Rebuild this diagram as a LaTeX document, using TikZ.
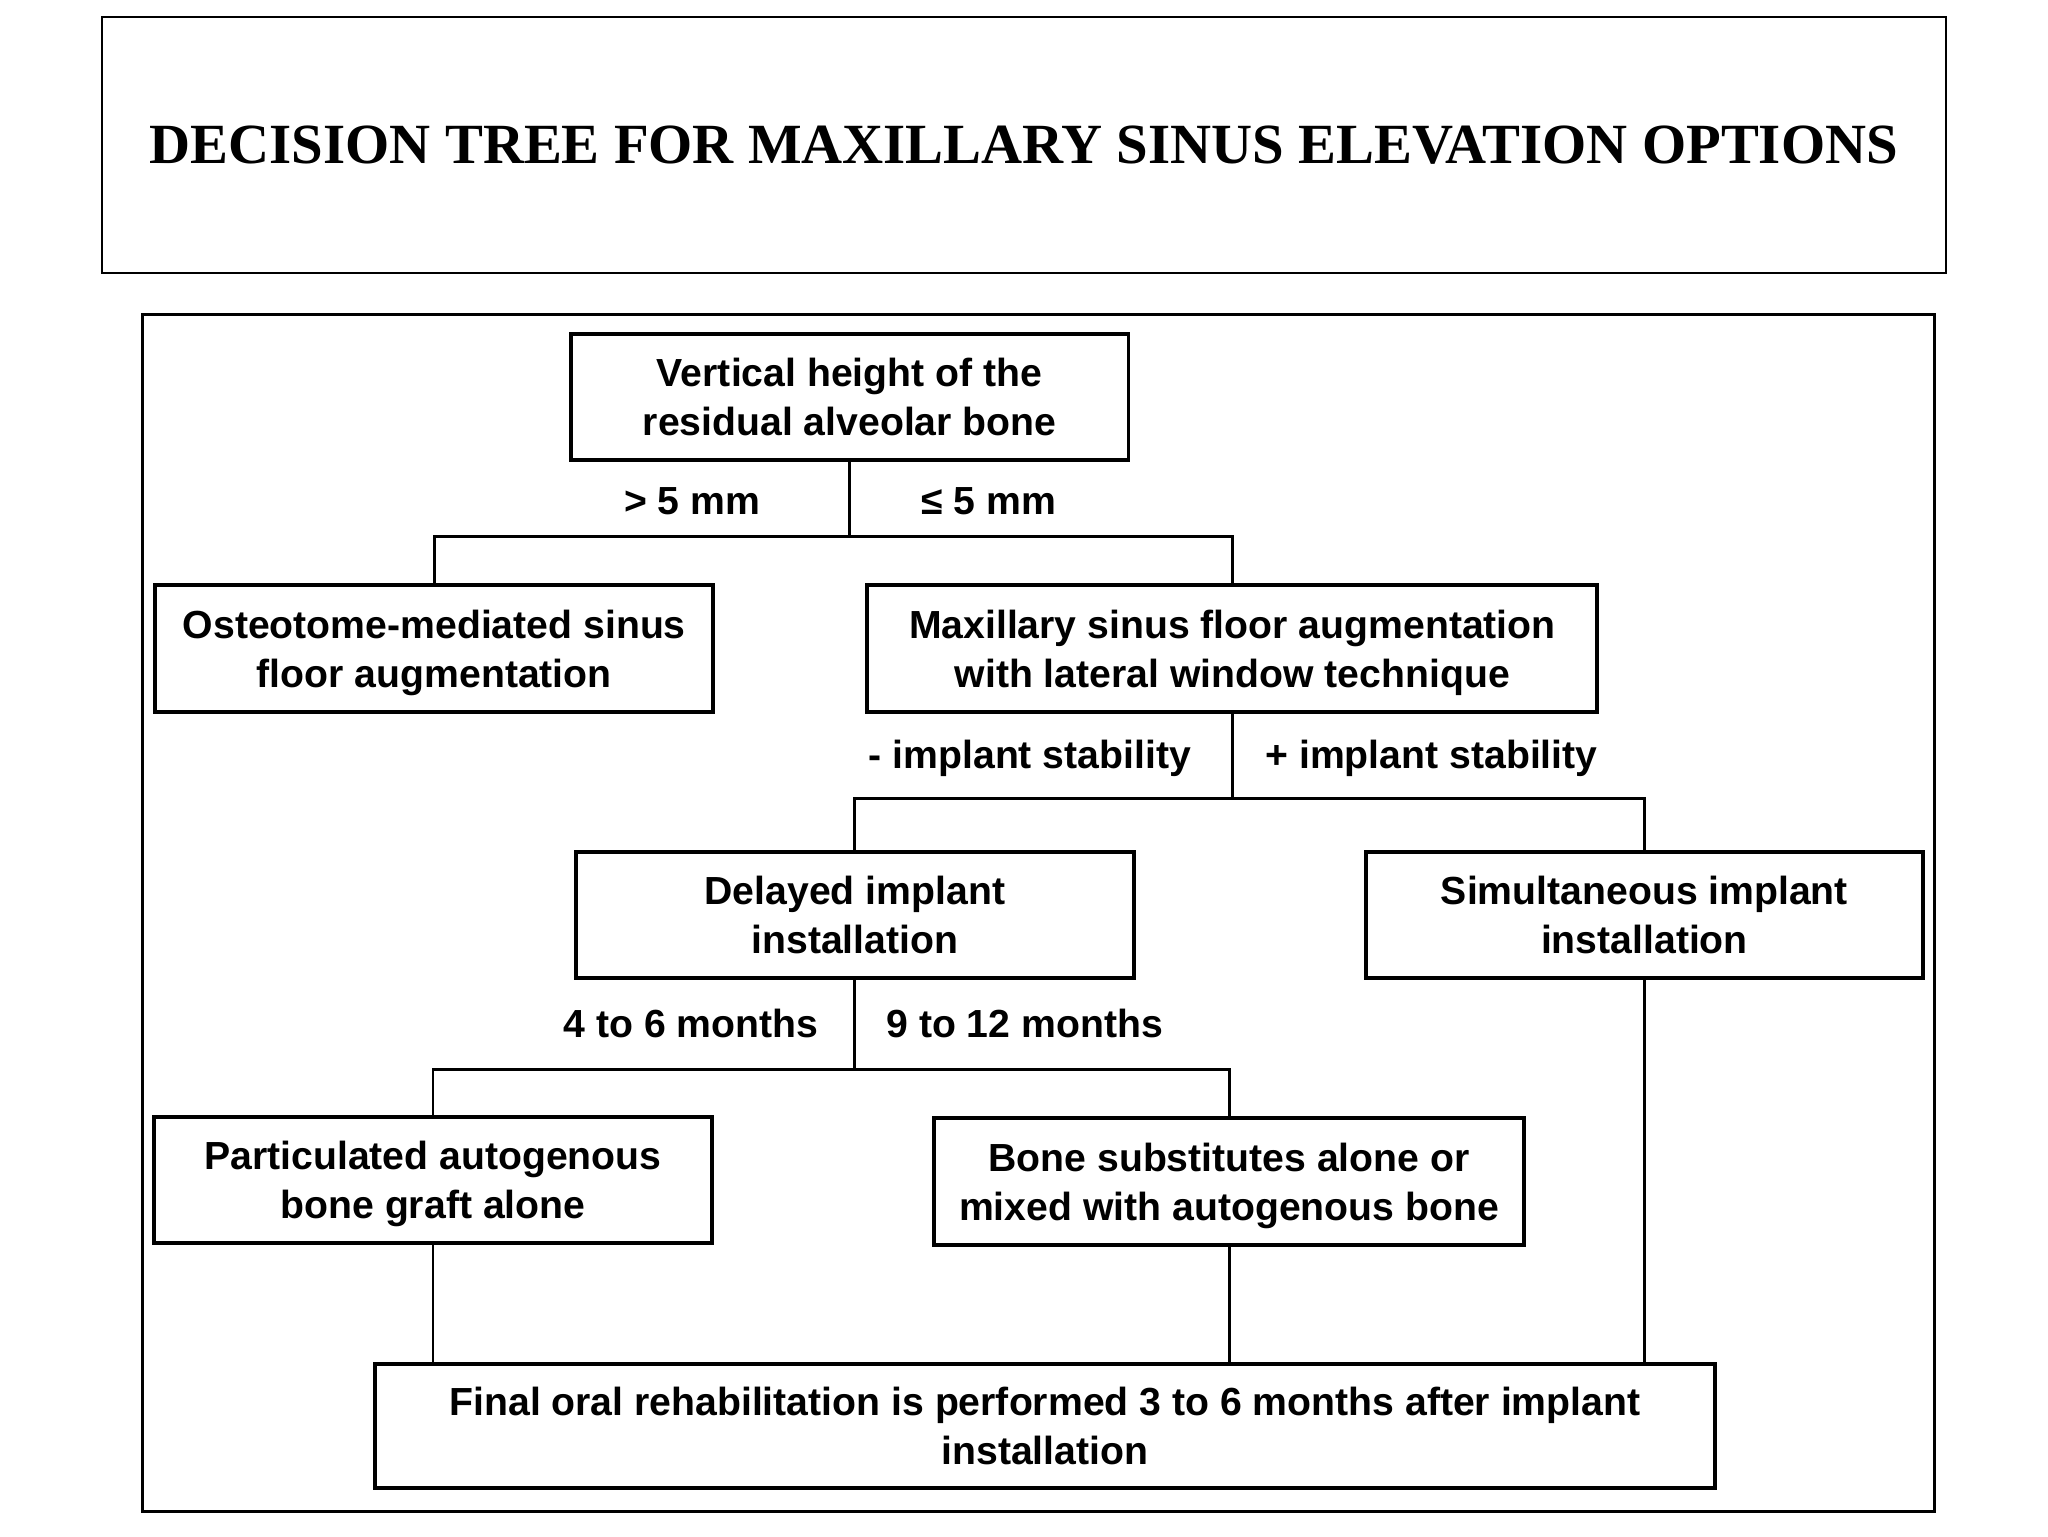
\documentclass[tikz,border=0pt]{standalone}
\usepackage{fontspec}
\setmainfont{Liberation Sans}
\newfontfamily\titlefont{Liberation Serif}
\begin{document}
\begin{tikzpicture}[x=1pt,y=-1pt,
  box/.style={draw, line width=3pt, inner sep=0pt, align=center, text depth=0pt,
    font=\fontsize{30}{37.5}\selectfont\bfseries},
  lbl/.style={inner sep=0pt, anchor=base, font=\fontsize{30}{36}\selectfont\bfseries},
  conn/.style={line width=2.2pt}]
\useasboundingbox (0,0) rectangle (1568,1176);
\node[draw, line width=1.6pt, minimum width=1412pt, minimum height=196pt, inner sep=0pt,
  font=\titlefont\fontsize{43.5}{50}\selectfont\bfseries] (title) at (784,111)
  {DECISION TREE FOR MAXILLARY SINUS ELEVATION OPTIONS};
\node[draw, line width=2.2pt, minimum width=1372pt, minimum height=916pt, inner sep=0pt] (frame) at (795,699) {};

\node[box, minimum width=427pt, minimum height=96pt] (b1) at (650.5,304)
  {Vertical height of the\\residual alveolar bone};
\node[box, minimum width=427pt, minimum height=97pt] (b2) at (332.5,496.5)
  {Osteotome-mediated sinus\\floor augmentation};
\node[box, minimum width=559pt, minimum height=97pt] (b3) at (943.5,496.5)
  {Maxillary sinus floor augmentation\\with lateral window technique};
\node[box, minimum width=427pt, minimum height=97pt] (b4) at (654.5,700.5)
  {Delayed implant\\installation};
\node[box, minimum width=426pt, minimum height=97pt] (b5) at (1259,700.5)
  {Simultaneous implant\\installation};
\node[box, minimum width=427pt, minimum height=97pt] (b6) at (331.5,903.5)
  {Particulated autogenous\\bone graft alone};
\node[box, minimum width=452pt, minimum height=97pt] (b7) at (941,904.5)
  {Bone substitutes alone or\\mixed with autogenous bone};
\node[box, minimum width=1026pt, minimum height=95pt] (b8) at (800,1091.5)
  {Final oral rehabilitation is performed 3 to 6 months after implant\\installation};

\node[lbl] (l1) at (530,394) {> 5 mm};
\node[lbl] (l2) at (757,394) {≤ 5 mm};
\node[lbl] (l3) at (788.5,588) {- implant stability};
\node[lbl] (l4) at (1096,588) {+ implant stability};
\node[lbl] (l5) at (529,794) {4 to 6 months};
\node[lbl] (l6) at (784.5,794) {9 to 12 months};

\coordinate (j1) at ([yshift=-57pt]b1.south);
\coordinate (j2) at ([yshift=-65pt]b3.south);
\coordinate (j3) at ([yshift=-68pt]b4.south);

\draw[conn] (b1.south) -- (j1) -| (b2.north);
\draw[conn] (j1) -| (b3.north);
\draw[conn] (b3.south) -- (j2) -| (b4.north);
\draw[conn] (j2) -| (b5.north);
\draw[conn] (b4.south) -- (j3) -| (b6.north);
\draw[conn] (j3) -| (b7.north);
\draw[conn] (b6.south) -- (b6.south |- b8.north);
\draw[conn] (b7.south) -- (b7.south |- b8.north);
\draw[conn] (b5.south) -- (b5.south |- b8.north);
\end{tikzpicture}
\end{document}
